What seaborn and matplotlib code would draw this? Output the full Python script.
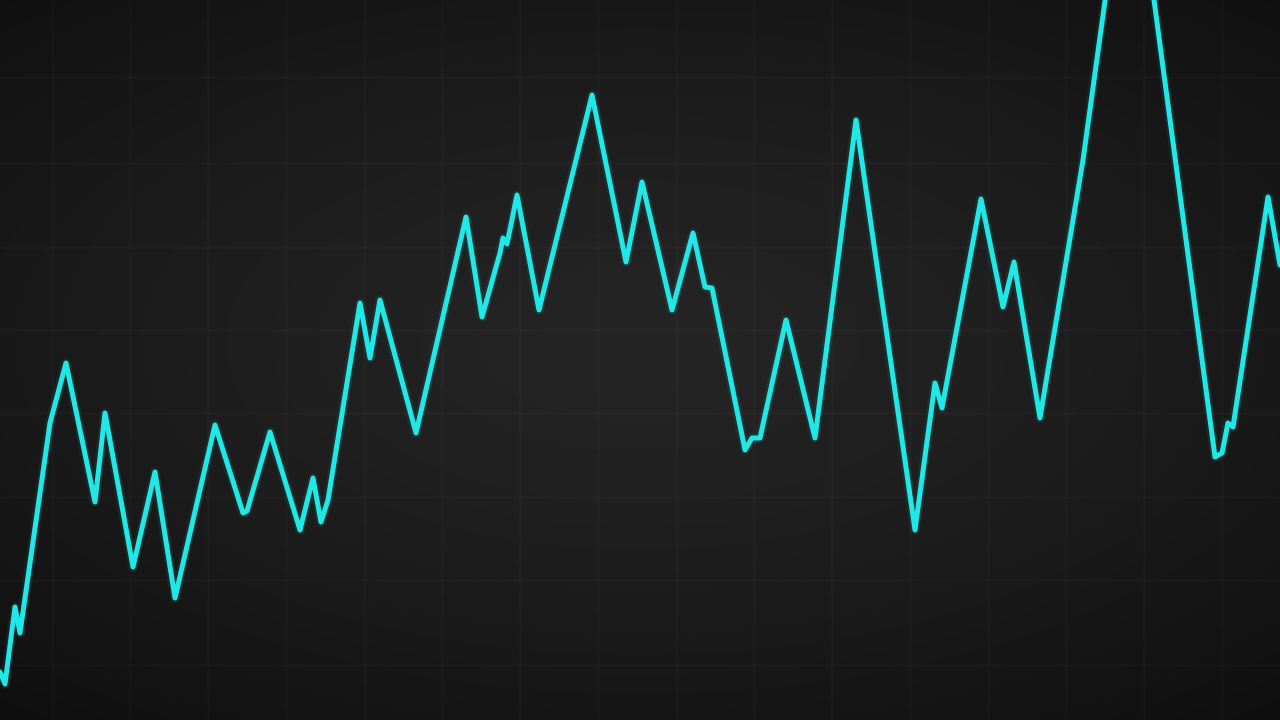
import numpy as np
import pandas as pd
import matplotlib
matplotlib.use("Agg")
import matplotlib.pyplot as plt
import seaborn as sns

# time positions and signal values
t = [0.0, 0.5, 1.5, 2.0, 5.0, 6.6, 9.5, 10.5, 13.3, 15.5, 17.5, 21.5, 24.3, 24.7,
     27.0, 30.0, 31.3, 32.1, 32.8, 36.0, 37.0, 38.0, 41.6, 46.6, 48.2, 50.0, 50.3,
     50.7, 51.7, 53.9, 59.2, 62.6, 64.2, 67.2, 69.3, 70.5, 71.2, 74.5, 75.2, 76.0,
     78.6, 81.5, 85.6, 91.5, 93.5, 94.2, 98.1, 100.3, 101.4, 104.0, 108.3, 113.0,
     121.5, 122.2, 122.8, 123.3, 126.8, 128.0]
value = [4.8, 3.6, 11.3, 8.7, 29.7, 35.7, 21.8, 30.7, 15.3, 24.8, 12.2, 29.5, 20.7,
         20.9, 28.8, 19.0, 24.2, 19.8, 22.0, 41.7, 36.2, 42.0, 28.7, 50.3, 40.3,
         46.7, 48.2, 47.6, 52.5, 41.0, 62.5, 45.8, 53.8, 41.0, 48.7, 43.3, 43.2,
         27.0, 28.2, 28.2, 40.0, 28.2, 60.0, 19.0, 33.7, 31.2, 52.1, 41.3, 45.8,
         30.2, 56.0, 90.0, 26.3, 26.7, 29.7, 29.3, 52.3, 45.5]

df = pd.DataFrame({"t": t, "value": value})

sns.set_theme(style="dark")
fig = plt.figure(figsize=(12.8, 7.2), dpi=100)
ax = fig.add_axes([0, 0, 1, 1])
ax.set_xlim(0, 128)
ax.set_ylim(0, 72)

# vignette background, lighter in the middle, dark towards the edges
gx, gy = np.meshgrid(np.linspace(-1, 1, 400), np.linspace(-1, 1, 225))
r = np.sqrt((gx * 0.85) ** 2 + ((gy + 0.05) * 0.95) ** 2)
shade = 0.145 - 0.085 * np.clip(r / 1.3, 0, 1) ** 1.3
ax.imshow(shade, cmap="gray", vmin=0, vmax=1, extent=[0, 128, 0, 72],
          aspect="auto", zorder=0, interpolation="bicubic")

# barely visible grid
ax.set_xticks(np.arange(5.2, 128, 7.8))
ax.set_yticks([5.5, 14.0, 22.3, 30.7, 39.0, 47.3, 55.7, 64.3])
ax.grid(True, color="white", alpha=0.018, linewidth=2.0)
ax.tick_params(length=0, labelbottom=False, labelleft=False)
for s in ax.spines.values():
    s.set_visible(False)

# faint glow under the line
sns.lineplot(data=df, x="t", y="value", sort=False, ax=ax, color="#1de9e6",
             linewidth=7, alpha=0.08, zorder=2)
sns.lineplot(data=df, x="t", y="value", sort=False, ax=ax, color="#1fe8e6",
             linewidth=3.6, zorder=3)
ax.set_xlabel("")
ax.set_ylabel("")

fig.savefig("out.png", dpi=100, facecolor="#121212")
